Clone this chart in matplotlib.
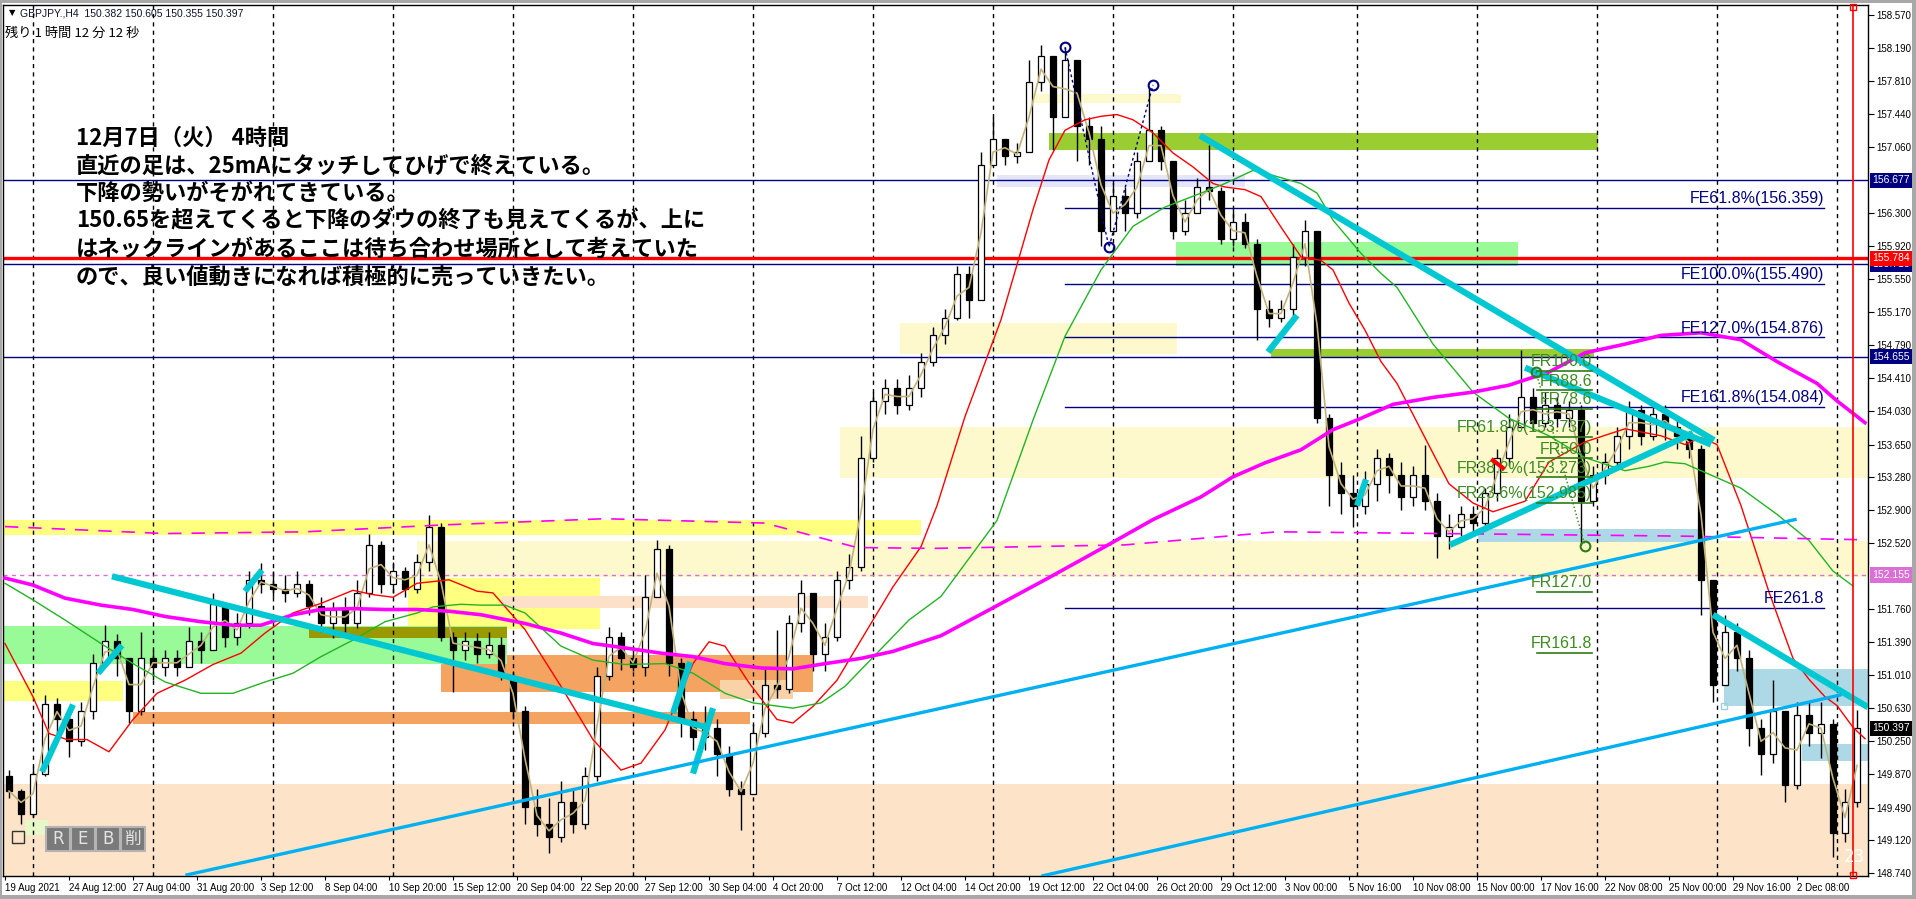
import numpy as np
import pandas as pd
import matplotlib
matplotlib.use('Agg')
import matplotlib.pyplot as plt
import matplotlib.transforms as mtransforms
from matplotlib.patches import Rectangle

plt.rcParams['font.family'] = ['DejaVu Sans', 'Noto Sans CJK JP']

# GBPJPY H4, three H4 bars per candle (close / high / low), open = previous close
close = [149.68,149.42,149.88,150.68,150.50,150.25,150.60,151.15,151.40,151.20,
         150.60,151.20,151.10,151.20,151.10,151.40,151.30,151.82,151.45,151.60,
         152.10,152.05,152.00,151.95,152.05,151.80,151.60,151.75,151.60,151.95,
         152.50,152.05,152.20,152.00,152.30,152.70,151.45,151.30,151.40,151.25,
         151.35,151.00,150.60,149.50,149.30,149.15,149.55,149.30,149.85,151.00,
         151.45,151.20,151.10,151.90,152.45,151.15,150.50,150.30,150.40,150.10,
         149.70,149.65,150.35,150.90,150.85,151.60,151.95,151.25,151.45,152.10,
         152.25,153.50,154.15,154.30,154.10,154.30,154.60,154.90,155.10,155.60,
         155.30,156.85,157.15,156.95,157.00,157.80,158.10,157.40,158.05,157.30,
         157.15,156.10,156.50,156.30,156.90,157.25,156.90,156.10,156.30,156.60,
         156.55,156.00,156.20,155.95,155.20,155.10,155.20,155.80,156.10,153.95,
         153.30,153.10,152.95,153.20,153.50,153.30,153.05,153.30,153.00,152.60,
         152.70,152.85,152.75,153.10,153.50,153.85,154.20,153.90,154.10,153.95,
         154.05,153.00,153.30,153.45,153.75,154.05,153.75,154.00,153.85,153.75,
         153.60,152.10,150.90,151.50,151.20,150.40,150.10,150.60,149.75,150.55,
         150.35,150.45,149.20,149.55,150.397]
high = [149.92,149.70,149.95,150.78,150.75,150.60,150.70,151.25,151.58,151.48,
        151.20,151.50,151.30,151.30,151.30,151.56,151.50,151.95,151.85,151.72,
        152.20,152.29,152.20,152.15,152.20,152.10,151.90,151.85,151.90,152.10,
        152.63,152.55,152.30,152.25,152.40,152.84,152.75,151.50,151.50,151.49,
        151.50,151.45,151.05,150.65,149.70,149.60,149.80,149.70,149.95,151.10,
        151.56,151.50,151.35,152.15,152.56,152.50,151.20,150.60,150.65,150.50,
        150.20,149.80,150.45,151.10,151.52,151.70,152.10,151.95,151.60,152.20,
        152.40,153.75,154.25,154.40,154.40,154.45,154.70,155.00,155.20,155.70,
        155.70,157.00,157.40,157.10,157.10,158.05,158.23,158.00,158.20,158.00,
        157.40,157.30,156.65,156.60,157.00,157.75,157.30,156.90,156.45,156.70,
        157.08,156.60,156.35,156.30,156.00,155.30,155.30,155.95,156.22,156.10,
        154.00,153.45,153.30,153.35,153.60,153.55,153.45,153.40,153.65,153.10,
        152.85,152.95,152.95,153.15,153.60,154.00,154.73,154.30,154.25,154.20,
        154.15,154.10,153.40,153.55,153.85,154.15,154.10,154.15,154.10,153.95,
        153.80,153.65,152.10,151.70,151.60,151.30,150.50,150.95,150.60,150.70,
        150.70,150.70,150.50,149.70,150.605]
low = [149.60,149.30,149.38,149.85,150.35,150.07,150.20,150.50,151.10,151.00,
       150.46,150.55,150.95,151.00,151.00,151.10,151.15,151.30,151.33,151.35,
       151.55,151.95,151.90,151.85,151.90,151.70,151.50,151.43,151.50,151.55,
       151.90,151.95,151.95,151.90,151.95,152.20,151.40,150.82,151.18,151.15,
       151.20,150.95,150.50,149.30,149.16,148.97,149.10,149.20,149.25,149.80,
       150.95,151.07,151.05,151.00,151.90,151.00,150.30,150.15,150.15,149.85,
       149.62,149.23,149.65,150.30,150.75,150.80,151.50,151.05,151.05,151.40,
       152.00,152.20,153.45,154.00,154.00,154.05,154.20,154.55,154.80,155.08,
       155.10,155.30,156.95,156.85,156.87,157.00,157.70,157.02,157.40,156.90,
       156.85,155.92,156.05,156.10,156.25,157.00,156.80,156.00,156.05,156.30,
       156.45,155.95,155.92,155.90,154.85,155.00,155.05,155.10,155.70,153.90,
       152.95,152.85,152.70,152.85,153.00,153.10,152.90,152.95,152.90,152.35,
       152.45,152.60,152.60,152.70,153.00,153.40,153.85,153.80,153.85,153.85,
       153.85,152.50,152.95,153.20,153.40,153.60,153.65,153.70,153.70,153.60,
       153.50,151.70,150.70,150.90,151.05,150.20,149.86,150.00,149.56,149.70,
       150.20,150.06,148.93,149.10,149.50]
first_open = 149.85

# moving averages (bar index, price)
ma25_bar = [0,7,11,15.5,20.5,26,32,38,45,52,59,65,72,79,87,92,97,103,111,118,122,130,139,147,154,159,
            165,172,176,180,186,193,197,202,208,214,222,229,233,240,249,257,261,265,270,274,278,282,
            287,292,297,302,305,310,314,319,324,329,332,336,340,344,348,357,361,367,372,380,386,395,
            405,414,420,424,428,434,441,447,451,455,458,462,465]
ma25_val = [151.37,150.76,150.34,150.27,150.27,150.13,150.50,150.80,150.95,151.13,151.26,151.49,151.72,
            151.83,151.98,151.93,151.90,152.06,152.10,151.97,151.95,151.53,150.88,150.27,149.92,150.00,
            150.38,151.14,151.39,151.34,150.92,150.50,150.46,150.65,150.95,151.41,152.02,152.48,152.95,
            153.97,155.08,156.34,156.91,157.25,157.37,157.41,157.43,157.37,157.22,156.99,156.83,156.64,
            156.60,156.57,156.49,156.14,155.80,155.76,155.65,155.27,154.96,154.60,154.35,153.55,153.20,
            152.98,152.88,153.00,153.45,153.68,153.83,153.75,153.65,153.73,153.65,152.95,151.96,151.20,
            150.96,150.76,150.66,150.41,150.28]
ma75_bar = [0,7,15,24,32,40,49,57,65,72,79,87,95,103,107,114,119,125,130,139,147,155,165,172,180,187,
            197,204,210,218,226,234,248,257,265,274,282,290,299,305,312,315,324,328,332,339,344,348,
            357,367,376,386,395,405,411,415,420,424,434,443,451,457,462]
ma75_val = [152.06,151.87,151.64,151.37,151.14,150.93,150.80,150.80,150.93,151.03,151.22,151.41,151.62,
            151.72,151.79,151.82,151.81,151.81,151.72,151.34,151.18,151.13,151.14,151.03,150.80,150.69,
            150.63,150.69,150.88,151.26,151.64,151.91,152.78,153.93,154.89,155.65,156.15,156.37,156.53,
            156.64,156.79,156.76,156.64,156.53,156.22,155.84,155.61,155.45,154.80,154.25,153.95,153.75,
            153.50,153.35,153.40,153.45,153.43,153.35,153.15,152.85,152.55,152.20,152.03]
ma200_bar = [0,7,15,24,32,40,49,57,64,72,79,87,95,103,111,119,130,139,147,155,164,172,180,189,197,205,
             214,222,234,245,260,275,287,299,307,315,324,332,338,347,357,367,376,386,395,405,414,424,
             434,443,453,458,465]
ma200_val = [152.12,152.04,151.89,151.81,151.76,151.68,151.62,151.58,151.58,151.70,151.76,151.77,151.76,
             151.76,151.74,151.70,151.60,151.49,151.37,151.32,151.26,151.22,151.14,151.09,151.08,151.14,
             151.20,151.28,151.46,151.73,152.10,152.48,152.79,153.05,153.28,153.44,153.59,153.82,153.93,
             154.11,154.19,154.25,154.33,154.48,154.70,154.80,154.90,154.93,154.85,154.60,154.35,154.15,
             153.90]
dma_bar = [0,40,75,110,150,190,213,232,280,318,380,420,463]
dma_val = [152.71,152.63,152.65,152.73,152.80,152.75,152.47,152.46,152.50,152.65,152.62,152.60,152.56]

# horizontal levels
navy_levels = [156.677, 155.713, 154.655]
red_level = 155.784
pink_level = 152.155
fe_levels = [156.359, 155.490, 154.876, 154.084, 151.78]
fe_labels = ['FE61.8%(156.359)', 'FE100.0%(155.490)', 'FE127.0%(154.876)', 'FE161.8%(154.084)', 'FE261.8']
fr_levels = [154.49, 154.27, 154.06, 153.737, 153.49, 153.273, 152.985, 151.96, 151.26]
fr_labels = ['FR100.0', 'FR88.6', 'FR78.6', 'FR61.8%(153.737)', 'FR50.0', 'FR38.2%(153.273)',
             'FR23.6%(152.985)', 'FR127.0', 'FR161.8']

# zones: bar0, bar1, price low, price high, colour
zones = [(-1, 466, 148.70, 149.76, '#fde3c8'),
         (-1, 229, 152.61, 152.78, '#ffff80'),
         (103, 466, 152.13, 152.55, '#fdf9cc'),
         (100.75, 148.75, 151.54, 152.12, '#ffff80'),
         (-1, 29.5, 150.71, 150.94, '#ffff80'),
         (109, 202, 150.82, 151.24, '#f4a460'),
         (32, 186.25, 150.45, 150.59, '#f4a460'),
         (-1, 125.5, 151.14, 151.57, '#98fb98'),
         (76, 125.5, 151.43, 151.56, '#9a9a00'),
         (124.25, 215.75, 151.78, 151.92, '#fde0c8'),
         (178.75, 197, 150.74, 150.95, '#fad2a8'),
         (208.75, 466, 153.27, 153.85, '#fdf9cc'),
         (223.75, 293, 154.69, 155.04, '#fdf9cc'),
         (257, 294, 157.56, 157.66, '#fdf9cc'),
         (261, 398.25, 157.02, 157.22, '#9acd32'),
         (248, 310, 156.60, 156.74, '#e6e6fa'),
         (292.75, 378.25, 155.69, 155.97, '#98fb98'),
         (316.5, 397.25, 154.65, 154.74, '#9acd32'),
         (368.25, 423.25, 152.53, 152.68, '#add8e6'),
         (429.75, 466, 150.66, 151.08, '#add8e6'),
         (449.25, 466, 150.02, 150.22, '#add8e6'),
         (5, 10.75, 149.18, 149.35, '#e6f8c8')]

# trend lines (bar, price) -> (bar, price)
cyan_lines = [((26.75, 152.14), (175.5, 150.41)), ((298.75, 157.19), (427.25, 153.70)),
              ((380, 154.53), (426.5, 153.65)), ((361.25, 152.50), (422, 153.78)),
              ((427, 151.70), (465.75, 150.64)), ((9.25, 149.90), (17, 150.67)),
              ((23.25, 151.03), (29.25, 151.35)), ((60, 151.97), (64.25, 152.21)),
              ((167, 150.57), (171.25, 151.16)), ((172, 149.88), (177, 150.63)),
              ((315.75, 154.71), (323, 155.13)), ((338, 152.95), (340.25, 153.25))]
blue_lines = [((45.5, 148.72), (447.5, 152.79)), ((259.5, 148.71), (458.75, 150.78))]
fe_points_bar = [265, 276, 287]
fe_points_val = [158.20, 155.91, 157.77]
fr_points_bar = [382.75, 395]
fr_points_val = [154.48, 152.49]

date_labels = ['19 Aug 2021', '24 Aug 12:00', '27 Aug 04:00', '31 Aug 20:00', '3 Sep 12:00', '8 Sep 04:00',
               '10 Sep 20:00', '15 Sep 12:00', '20 Sep 04:00', '22 Sep 20:00', '27 Sep 12:00',
               '30 Sep 04:00', '4 Oct 20:00', '7 Oct 12:00', '12 Oct 04:00', '14 Oct 20:00',
               '19 Oct 12:00', '22 Oct 04:00', '26 Oct 20:00', '29 Oct 12:00', '3 Nov 00:00',
               '5 Nov 16:00', '10 Nov 08:00', '15 Nov 00:00', '17 Nov 16:00', '22 Nov 08:00',
               '25 Nov 00:00', '29 Nov 16:00', '2 Dec 08:00']
grid_bars = [7, 37, 67, 97, 127, 157, 187, 217, 247, 277, 307, 338, 368, 398, 428, 458]
price_ticks = [158.570, 158.190, 157.810, 157.440, 157.060, 156.300, 155.920, 155.550, 155.170,
               154.790, 154.410, 154.030, 153.650, 153.280, 152.900, 152.520, 151.760, 151.390,
               151.010, 150.630, 150.250, 149.870, 149.490, 149.120, 148.740]
box_prices = [156.677, 154.655, 155.713, 155.784, 152.155, 150.397]
box_colors = ['#000080', '#000080', '#000080', '#ff0000', '#da70d6', '#000000']

note_lines = ['12月7日（火） 4時間',
              '直近の足は、25mAにタッチしてひげで終えている。',
              '下降の勢いがそがれてきている。',
              '150.65を超えてくると下降のダウの終了も見えてくるが、上に',
              'はネックラインがあるここは待ち合わせ場所として考えていた',
              'ので、良い値動きになれば積極的に売っていきたい。']

W, H = 1916, 899
fig = plt.figure(figsize=(W / 100, H / 100), dpi=100)
fig.patch.set_facecolor('white')
ax = fig.add_axes([3 / W, 1 - 876 / H, (1868 - 3) / W, (876 - 5) / H])
ax.set_xlim(-0.5, 465.75)
ax.set_ylim(148.707, 158.685)

for b0, b1, p0, p1, c in zones:
    ax.add_patch(Rectangle((b0, p0), b1 - b0, p1 - p0, facecolor=c, edgecolor='none', zorder=0.5))
ax.plot([429.75], [150.66], 's', ms=4, mfc='none', mec='#9ccfe0', zorder=0.6)

for g in grid_bars:
    ax.axvline(g, color='black', lw=1, ls=(0, (3, 3)), zorder=1)

for lv in navy_levels:
    ax.axhline(lv, color='#000080', lw=1, zorder=1.5)
ax.axhline(red_level, color='#ff0000', lw=2.4, zorder=1.6)
ax.axhline(pink_level, color='#da70d6', lw=1, ls=(0, (3, 3)), zorder=1.5)

# fibo expansion
for lv, lab in zip(fe_levels, fe_labels):
    ax.plot([265, 454.75], [lv, lv], color='#000080', lw=1, zorder=1.5)
    ax.text(454.75, lv + 0.02, lab, ha='right', va='bottom', color='#000080',
            fontsize=11.5, family='Liberation Sans', zorder=6)
ax.plot(fe_points_bar, fe_points_val, color='#000080', lw=1, ls=(0, (2, 2)), zorder=5)
ax.plot(fe_points_bar, fe_points_val, 'o', ms=7, mfc='none', mec='#000080', mew=1.5, zorder=6)

# candles
opens = [first_open] + close[:-1]
cx = np.arange(len(close)) * 3 + 1
for i in range(len(close)):
    o, c = opens[i], close[i]
    h, l = max(high[i], o, c), min(low[i], o, c)
    ax.vlines(cx[i], l, h, color='black', lw=1, zorder=3)
    body = max(abs(c - o), 0.012)
    fc = 'white' if c >= o else 'black'
    ax.bar(cx[i], body, bottom=min(o, c), width=1.6, color=fc, edgecolor='black', lw=0.9, zorder=3.1)

# moving averages
tan_ma = pd.Series(close).rolling(2, min_periods=1).mean()
ax.plot(cx, tan_ma, color='#c2b27a', lw=1.2, zorder=4)
ax.plot(ma25_bar, ma25_val, color='#ff0000', lw=1, zorder=4)
ax.plot(ma75_bar, ma75_val, color='#22b422', lw=1, zorder=4)
ax.plot(ma200_bar, ma200_val, color='#ff00ff', lw=2.6, zorder=4)
ax.plot(dma_bar, dma_val, color='#ff00ff', lw=1.2, ls=(0, (8, 6)), zorder=4)

# trend lines
for (b0, p0), (b1, p1) in cyan_lines:
    ax.plot([b0, b1], [p0, p1], color='#00c8d2', lw=4.5, solid_capstyle='butt', zorder=5)
for (b0, p0), (b1, p1) in blue_lines:
    ax.plot([b0, b1], [p0, p1], color='#00b0f0', lw=2.4, zorder=5)

# fibo retracement
for lv, lab in zip(fr_levels, fr_labels):
    ax.plot([383, 396.75], [lv, lv], color='#2e7d14', lw=1.2, zorder=5)
    ax.text(396.75, lv + 0.02, lab, ha='right', va='bottom', color='#3c8c1e',
            fontsize=11.5, family='Liberation Sans', zorder=6)
ax.plot(fr_points_bar, fr_points_val, color='#2e7d14', lw=1, ls=':', zorder=5)
ax.plot(fr_points_bar, fr_points_val, 'o', ms=7, mfc='none', mec='#2e7d14', mew=1.5, zorder=6)
ax.plot([372, 374.5], [153.47, 153.38], color='red', lw=3, zorder=6)

# current-bar marker
ax.axvline(462, color='#ff0000', lw=1.2, zorder=6)
ax.plot([462, 462], [158.66, 148.72], 's', ms=5, mfc='none', mec='#ff0000', zorder=7, clip_on=False)
ax.text(465, 148.93, '23', color='white', fontsize=12, ha='right', va='center', zorder=7)
ax.add_patch(Rectangle((1.75, 149.09), 3, 0.13, facecolor='none', edgecolor='#333333', lw=1, zorder=6))

# axes
for s in ax.spines.values():
    s.set_color('black')
    s.set_linewidth(1)
ax.yaxis.tick_right()
ax.set_yticks(price_ticks)
ax.set_yticklabels(['%.3f' % p for p in price_ticks])
ax.tick_params(axis='y', length=4, pad=2, labelsize=7, colors='black')
ax.set_xticks([16 * k for k in range(len(date_labels))])
ax.set_xticklabels(date_labels, ha='left')
ax.tick_params(axis='x', length=3, pad=2, labelsize=7)
for t in ax.get_xticklabels() + ax.get_yticklabels():
    t.set_family('Liberation Sans')

trans = mtransforms.blended_transform_factory(ax.transAxes, ax.transData)
for p, c in zip(box_prices, box_colors):
    ax.text(1.0025, p, '%.3f' % p, transform=trans, ha='left', va='center', color='white',
            fontsize=7.5, family='Liberation Sans', zorder=8, clip_on=False,
            bbox=dict(boxstyle='square,pad=0.25', fc=c, ec='none'))

# header
fig.text(9 / W, 1 - 13 / H, '▼', fontsize=6, va='center', color='black')
fig.text(20 / W, 1 - 13 / H, 'GBPJPY.,H4  150.382 150.605 150.355 150.397', fontsize=7.5,
         va='center', color='#101030', family='Liberation Sans')
fig.text(5 / W, 1 - 33 / H, '残り 1 時間 12 分 12 秒', fontsize=9.5, va='center',
         family=['Noto Sans CJK JP', 'DejaVu Sans'])

# note
for k, line in enumerate(note_lines):
    fig.text(76 / W, 1 - (138 + 27.8 * k) / H, line, fontsize=16, fontweight='bold', va='center',
             color='black', family=['Noto Sans CJK JP', 'DejaVu Sans'])

# buttons
for k, lab in enumerate(['R', 'E', 'B', '削']):
    x0 = 46 + 25 * k
    fig.patches.append(Rectangle((x0 / W, 1 - 851 / H), 24 / W, 24 / H, transform=fig.transFigure,
                                 facecolor='#7a7a7a', edgecolor='#b4b4b4', lw=1.5, zorder=10))
    fig.text((x0 + 12) / W, 1 - 839 / H, lab, fontsize=12, ha='center', va='center', color='#e4e4e4',
             family=['DejaVu Sans', 'Noto Sans CJK JP'], zorder=11)

# window frame
for (x0, y0, w, h) in [(0, 0, W, 3), (0, 0, 2, H), (0, H - 4, W, 4), (W - 4, 0, 4, H)]:
    fig.patches.append(Rectangle((x0 / W, 1 - (y0 + h) / H), w / W, h / H, transform=fig.transFigure,
                                 facecolor='#a8a8a8', edgecolor='none', zorder=12))

fig.savefig('out.png', dpi=100)
